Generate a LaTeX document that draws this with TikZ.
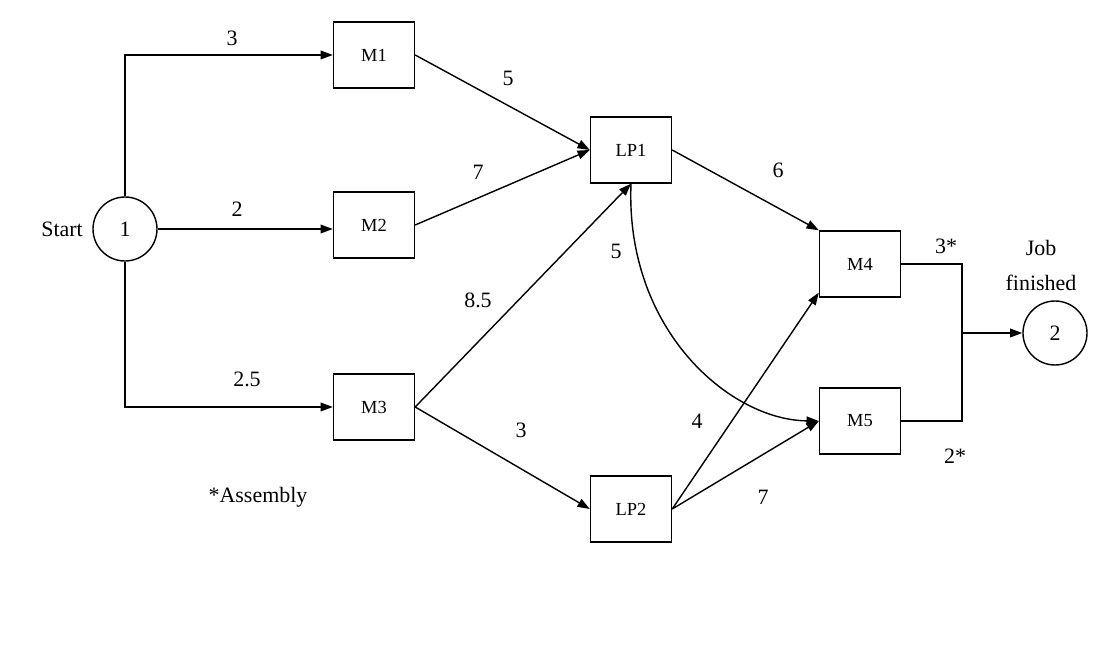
\documentclass[tikz,border=0pt]{standalone}
\usepackage{fontspec}
\setmainfont{Liberation Serif}
\usetikzlibrary{arrows.meta}
\begin{document}
\begin{tikzpicture}[x=0.02cm,y=-0.02cm,
  box/.style={draw,thick,minimum width=81*0.02cm,minimum height=66*0.02cm,inner sep=0pt,font=\fontsize{10.5}{12}\selectfont},
  circ/.style={draw,thick,circle,minimum size=64*0.02cm,inner sep=0pt,font=\fontsize{12.5}{14}\selectfont},
  lab/.style={font=\fontsize{12.5}{14}\selectfont},
  arr/.style={thick,-{Triangle[length=7pt,width=5pt]}}]
\useasboundingbox (0,0) rectangle (1120,648);
\node[circ] (c1) at (125,229) {1};
\node[lab,anchor=east] (st) at (89,229) {Start};
\node[box] (m1) at (374,55) {M1};
\node[box] (m2) at (374,225) {M2};
\node[box] (m3) at (374,407) {M3};
\node[box] (lp1) at (631,150) {LP1};
\node[box] (lp2) at (631,509) {LP2};
\node[box] (m4) at (860,264) {M4};
\node[box] (m5) at (860,421) {M5};
\node[circ] (c2) at (1055,333) {2};
\coordinate (j) at (962,333);
\draw[arr] (c1.north) |- (m1.west);
\draw[arr] (c1.east) -- (m1.west |- c1.east);
\draw[arr] (c1.south) |- (m3.west);
\draw[arr] (m1.east) -- (lp1.west);
\draw[arr] (m2.east) -- (lp1.west);
\draw[arr] (m3.east) -- (lp1.south);
\draw[arr] (m3.east) -- (lp2.west);
\draw[arr] (lp1.east) -- (m4.north west);
\draw[arr] (lp1.south) .. controls (625,330) and (730,420) .. (m5.west);
\draw[arr] (lp2.east) -- ([yshift=0.1cm]m4.south west);
\draw[arr] (lp2.east) -- (m5.west);
\draw[thick] (m4.east) -| (j);
\draw[thick] (m5.east) -| (j);
\draw[arr] (j) -- (c2.west);
\node[lab] (l1) at (232,38) {3};
\node[lab] (l2) at (237,209) {2};
\node[lab] (l3) at (247,379) {2.5};
\node[lab] (l4) at (508,78) {5};
\node[lab] (l5) at (478,172) {7};
\node[lab] (l6) at (478,300) {8.5};
\node[lab] (l7) at (521,430) {3};
\node[lab] (l8) at (778,170) {6};
\node[lab] (l9) at (616,251) {5};
\node[lab] (l10) at (697,421) {4};
\node[lab] (l11) at (763,497) {7};
\node[lab] (l12) at (946,246) {3*};
\node[lab] (l13) at (955,456) {2*};
\node[lab] (jf1) at (1041,248) {Job};
\node[lab] (jf2) at (1041,283) {finished};
\node[lab] (as) at (258,497) {*Assembly};
\end{tikzpicture}
\end{document}
